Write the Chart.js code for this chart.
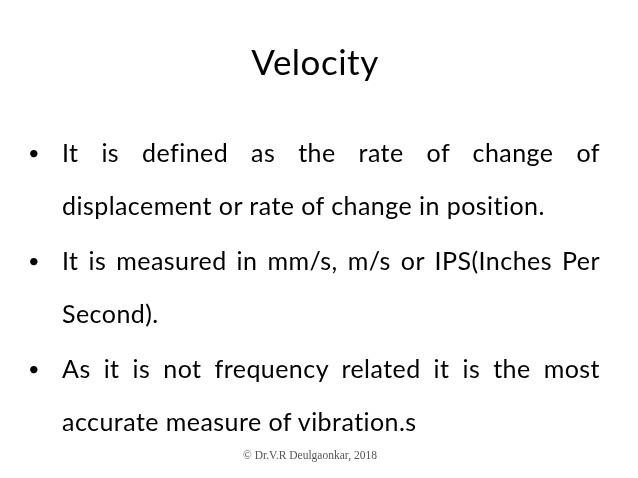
<!DOCTYPE html>
<html><head><meta charset="utf-8">
<script src="https://cdn.jsdelivr.net/npm/chart.js@4/dist/chart.umd.min.js"></script>
<style>
html,body{margin:0;padding:0;background:#fff;}
#wrap{position:relative;width:638px;height:478px;overflow:hidden;font-family:Lato,"Open Sans",sans-serif;color:#000;font-variant-ligatures:none;}
#c{position:absolute;left:0;top:0;}
.t{position:absolute;left:0;width:630px;text-align:center;font-size:35px;top:40px;letter-spacing:0.5px;}
.b{position:absolute;left:28px;font-size:20px;}
.l{position:absolute;left:62px;width:538px;font-size:25px;letter-spacing:0.45px;white-space:nowrap;}
.j{text-align:justify;text-align-last:justify;white-space:normal;}
.f{position:absolute;left:0;width:620px;text-align:center;top:449px;font-family:"Liberation Serif",serif;font-size:11.5px;color:#555;}
</style></head><body>
<div id="wrap">
<canvas id="c" width="638" height="478"></canvas>
<div class="t" id="title"></div>
<div id="body"></div>
<div class="f" id="foot"></div>
</div>
<script>
const titleText = "Velocity";
const lines = [
 "It is defined as the rate of change of",
 "displacement or rate of change in position.",
 "It is measured in mm/s, m/s or IPS(Inches Per",
 "Second).",
 "As it is not frequency related it is the most",
 "accurate measure of vibration.s"
];
const justified = [true,false,true,false,true,false];
const bulletAt = [true,false,true,false,true,false];
const footer = "© Dr.V.R Deulgaonkar, 2018";

document.getElementById('title').textContent = titleText;
document.getElementById('foot').textContent = footer;
const body = document.getElementById('body');
const tops = [137,190,245,298,353,406];
lines.forEach((s,i)=>{
  const d=document.createElement('div');
  d.className='l'+(justified[i]?' j':'');
  d.style.top=tops[i]+'px';
  d.textContent=s;
  body.appendChild(d);
  if(bulletAt[i]){
    const b=document.createElement('div');
    b.className='b'; b.style.top=(tops[i]+3)+'px'; b.textContent='•';
    body.appendChild(b);
  }
});
new Chart(document.getElementById('c'),{
  type:'bar',
  data:{labels:[],datasets:[]},
  options:{responsive:false,animation:false,events:[],
    plugins:{legend:{display:false},tooltip:{enabled:false}},
    scales:{x:{display:false},y:{display:false}}}
});
</script>
</body></html>
